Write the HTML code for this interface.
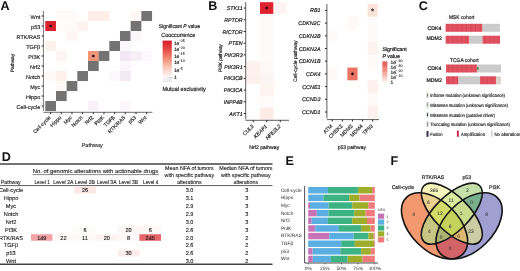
<!DOCTYPE html>
<html><head><meta charset="utf-8"><title>Figure</title>
<style>
html,body{margin:0;padding:0;background:#fff;overflow:hidden;}
svg{display:block;font-family:"Liberation Sans", Arial, sans-serif;}
text{text-rendering:geometricPrecision;}
</style></head>
<body>
<svg xmlns="http://www.w3.org/2000/svg" width="520" height="271" viewBox="0 0 520 271">
<rect width="520" height="271" fill="#fff"/>
<text x="0.60" y="10.10" font-size="12.6" font-weight="bold" fill="#111">A</text>
<text x="208.20" y="10.10" font-size="12.6" font-weight="bold" fill="#111">B</text>
<text x="418.80" y="10.20" font-size="12.6" font-weight="bold" fill="#111">C</text>
<text x="1.80" y="160.60" font-size="12.6" font-weight="bold" fill="#111">D</text>
<text x="285.40" y="164.90" font-size="12.6" font-weight="bold" fill="#111">E</text>
<text x="390.40" y="165.00" font-size="12.6" font-weight="bold" fill="#111">F</text>
<rect x="55.97" y="11.00" width="10.72" height="10.05" fill="#fefaf9"/>
<rect x="66.64" y="11.00" width="10.72" height="10.05" fill="#fefaf9"/>
<rect x="87.98" y="11.00" width="10.72" height="10.05" fill="#fdeee8"/>
<rect x="98.65" y="11.00" width="10.72" height="10.05" fill="#fdeee8"/>
<rect x="130.66" y="11.00" width="10.72" height="10.05" fill="#fef6f2"/>
<rect x="141.33" y="11.00" width="10.72" height="10.05" fill="#737373"/>
<rect x="45.30" y="21.00" width="10.72" height="10.05" fill="#d8222e"/>
<rect x="55.97" y="21.00" width="10.72" height="10.05" fill="#fefbfa"/>
<rect x="66.64" y="21.00" width="10.72" height="10.05" fill="#fefbfa"/>
<rect x="77.31" y="21.00" width="10.72" height="10.05" fill="#fef3f1"/>
<rect x="130.66" y="21.00" width="10.72" height="10.05" fill="#737373"/>
<rect x="66.64" y="31.00" width="10.72" height="10.05" fill="#fef5f4"/>
<rect x="119.99" y="31.00" width="10.72" height="10.05" fill="#737373"/>
<rect x="130.66" y="31.00" width="10.72" height="10.05" fill="#faf6fa"/>
<rect x="45.30" y="41.00" width="10.72" height="10.05" fill="#fdf1ec"/>
<rect x="109.32" y="41.00" width="10.72" height="10.05" fill="#737373"/>
<rect x="119.99" y="41.00" width="10.72" height="10.05" fill="#faf7fb"/>
<rect x="55.97" y="51.00" width="10.72" height="10.05" fill="#fef5f3"/>
<rect x="87.98" y="51.00" width="10.72" height="10.05" fill="#f19478"/>
<rect x="98.65" y="51.00" width="10.72" height="10.05" fill="#737373"/>
<rect x="119.99" y="51.00" width="10.72" height="10.05" fill="#f1e7f2"/>
<rect x="130.66" y="51.00" width="10.72" height="10.05" fill="#f6f0f6"/>
<rect x="141.33" y="51.00" width="10.72" height="10.05" fill="#fbf9fb"/>
<rect x="87.98" y="61.00" width="10.72" height="10.05" fill="#737373"/>
<rect x="119.99" y="61.00" width="10.72" height="10.05" fill="#faf6fa"/>
<rect x="45.30" y="71.00" width="10.72" height="10.05" fill="#fef9f7"/>
<rect x="55.97" y="71.00" width="10.72" height="10.05" fill="#fdf0eb"/>
<rect x="77.31" y="71.00" width="10.72" height="10.05" fill="#737373"/>
<rect x="109.32" y="71.00" width="10.72" height="10.05" fill="#fbf9fb"/>
<rect x="119.99" y="71.00" width="10.72" height="10.05" fill="#f2e9f3"/>
<rect x="55.97" y="81.00" width="10.72" height="10.05" fill="#fef8f6"/>
<rect x="66.64" y="81.00" width="10.72" height="10.05" fill="#737373"/>
<rect x="55.97" y="91.00" width="10.72" height="10.05" fill="#737373"/>
<rect x="45.30" y="101.00" width="10.72" height="10.05" fill="#737373"/>
<rect x="87.98" y="101.00" width="10.72" height="10.05" fill="#f8f1f7"/>
<rect x="119.99" y="101.00" width="10.72" height="10.05" fill="#fbf7fb"/>
<circle cx="50.63" cy="26.00" r="1.3" fill="#1a0a0a"/>
<circle cx="93.31" cy="56.00" r="1.3" fill="#1a0a0a"/>
<line x1="43.40" y1="11.00" x2="43.40" y2="111.00" stroke="#777" stroke-width="1.0"/>
<line x1="43.50" y1="112.30" x2="152.40" y2="112.30" stroke="#444" stroke-width="0.8"/>
<line x1="41.60" y1="16.00" x2="43.50" y2="16.00" stroke="#222" stroke-width="1.0"/>
<text x="40.30" y="19.00" font-size="5.5" stroke="#1a1a1a" stroke-width="0.15" text-anchor="end" fill="#1a1a1a">Wnt</text>
<line x1="41.60" y1="26.00" x2="43.50" y2="26.00" stroke="#222" stroke-width="1.0"/>
<text x="40.30" y="29.00" font-size="5.5" stroke="#1a1a1a" stroke-width="0.15" text-anchor="end" fill="#1a1a1a">p53</text>
<line x1="41.60" y1="36.00" x2="43.50" y2="36.00" stroke="#222" stroke-width="1.0"/>
<text x="40.30" y="39.00" font-size="5.5" stroke="#1a1a1a" stroke-width="0.15" text-anchor="end" fill="#1a1a1a">RTK/RAS</text>
<line x1="41.60" y1="46.00" x2="43.50" y2="46.00" stroke="#222" stroke-width="1.0"/>
<text x="40.30" y="49.00" font-size="5.5" stroke="#1a1a1a" stroke-width="0.15" text-anchor="end" fill="#1a1a1a">TGF&#946;</text>
<line x1="41.60" y1="56.00" x2="43.50" y2="56.00" stroke="#222" stroke-width="1.0"/>
<text x="40.30" y="59.00" font-size="5.5" stroke="#1a1a1a" stroke-width="0.15" text-anchor="end" fill="#1a1a1a">PI3K</text>
<line x1="41.60" y1="66.00" x2="43.50" y2="66.00" stroke="#222" stroke-width="1.0"/>
<text x="40.30" y="69.00" font-size="5.5" stroke="#1a1a1a" stroke-width="0.15" text-anchor="end" fill="#1a1a1a">Nrf2</text>
<line x1="41.60" y1="76.00" x2="43.50" y2="76.00" stroke="#222" stroke-width="1.0"/>
<text x="40.30" y="79.00" font-size="5.5" stroke="#1a1a1a" stroke-width="0.15" text-anchor="end" fill="#1a1a1a">Notch</text>
<line x1="41.60" y1="86.00" x2="43.50" y2="86.00" stroke="#222" stroke-width="1.0"/>
<text x="40.30" y="89.00" font-size="5.5" stroke="#1a1a1a" stroke-width="0.15" text-anchor="end" fill="#1a1a1a">Myc</text>
<line x1="41.60" y1="96.00" x2="43.50" y2="96.00" stroke="#222" stroke-width="1.0"/>
<text x="40.30" y="99.00" font-size="5.5" stroke="#1a1a1a" stroke-width="0.15" text-anchor="end" fill="#1a1a1a">Hippo</text>
<line x1="41.60" y1="106.00" x2="43.50" y2="106.00" stroke="#222" stroke-width="1.0"/>
<text x="40.30" y="109.00" font-size="5.5" stroke="#1a1a1a" stroke-width="0.15" text-anchor="end" fill="#1a1a1a">Cell-cycle</text>
<line x1="50.63" y1="112.30" x2="50.63" y2="114.20" stroke="#222" stroke-width="1.0"/>
<text x="51.13" y="117.90" font-size="5.2" stroke="#111" stroke-width="0.14" text-anchor="end" fill="#111" transform="rotate(-45 51.13 117.90)">Cell-cycle</text>
<line x1="61.30" y1="112.30" x2="61.30" y2="114.20" stroke="#222" stroke-width="1.0"/>
<text x="61.80" y="117.90" font-size="5.2" stroke="#111" stroke-width="0.14" text-anchor="end" fill="#111" transform="rotate(-45 61.80 117.90)">Hippo</text>
<line x1="71.97" y1="112.30" x2="71.97" y2="114.20" stroke="#222" stroke-width="1.0"/>
<text x="72.47" y="117.90" font-size="5.2" stroke="#111" stroke-width="0.14" text-anchor="end" fill="#111" transform="rotate(-45 72.47 117.90)">Myc</text>
<line x1="82.64" y1="112.30" x2="82.64" y2="114.20" stroke="#222" stroke-width="1.0"/>
<text x="83.14" y="117.90" font-size="5.2" stroke="#111" stroke-width="0.14" text-anchor="end" fill="#111" transform="rotate(-45 83.14 117.90)">Notch</text>
<line x1="93.31" y1="112.30" x2="93.31" y2="114.20" stroke="#222" stroke-width="1.0"/>
<text x="93.81" y="117.90" font-size="5.2" stroke="#111" stroke-width="0.14" text-anchor="end" fill="#111" transform="rotate(-45 93.81 117.90)">Nrf2</text>
<line x1="103.98" y1="112.30" x2="103.98" y2="114.20" stroke="#222" stroke-width="1.0"/>
<text x="104.48" y="117.90" font-size="5.2" stroke="#111" stroke-width="0.14" text-anchor="end" fill="#111" transform="rotate(-45 104.48 117.90)">PI3K</text>
<line x1="114.66" y1="112.30" x2="114.66" y2="114.20" stroke="#222" stroke-width="1.0"/>
<text x="115.16" y="117.90" font-size="5.2" stroke="#111" stroke-width="0.14" text-anchor="end" fill="#111" transform="rotate(-45 115.16 117.90)">TGF&#946;</text>
<line x1="125.33" y1="112.30" x2="125.33" y2="114.20" stroke="#222" stroke-width="1.0"/>
<text x="125.83" y="117.90" font-size="5.2" stroke="#111" stroke-width="0.14" text-anchor="end" fill="#111" transform="rotate(-45 125.83 117.90)">RTK/RAS</text>
<line x1="136.00" y1="112.30" x2="136.00" y2="114.20" stroke="#222" stroke-width="1.0"/>
<text x="136.50" y="117.90" font-size="5.2" stroke="#111" stroke-width="0.14" text-anchor="end" fill="#111" transform="rotate(-45 136.50 117.90)">p53</text>
<line x1="146.66" y1="112.30" x2="146.66" y2="114.20" stroke="#222" stroke-width="1.0"/>
<text x="147.16" y="117.90" font-size="5.2" stroke="#111" stroke-width="0.14" text-anchor="end" fill="#111" transform="rotate(-45 147.16 117.90)">Wnt</text>
<text x="92.20" y="146.60" font-size="5.6" stroke="#111" stroke-width="0.1" text-anchor="middle" fill="#111" textLength="21.00" lengthAdjust="spacingAndGlyphs">Pathway</text>
<text x="14.00" y="63.00" font-size="4.8" stroke="#111" stroke-width="0.16" text-anchor="middle" fill="#111" transform="rotate(-90 14.00 63.00)" textLength="18.40" lengthAdjust="spacingAndGlyphs">Pathway</text>
<text x="158.80" y="27.60" font-size="5.4" stroke="#111" stroke-width="0.16" fill="#111" textLength="41.20" lengthAdjust="spacingAndGlyphs">Significant <tspan font-style="italic">P</tspan> value</text>
<text x="161.20" y="37.00" font-size="5.9" stroke="#111" stroke-width="0.16" fill="#111" textLength="34.00" lengthAdjust="spacingAndGlyphs">Cooccurrence</text>
<defs><linearGradient id="gA" x1="0" y1="0" x2="0" y2="1"><stop offset="0" stop-color="#d81a2a"/><stop offset="0.25" stop-color="#e64a44"/><stop offset="0.5" stop-color="#f08c74"/><stop offset="0.75" stop-color="#f8c8b8"/><stop offset="1" stop-color="#fdf4f2"/></linearGradient><linearGradient id="gA2" x1="0" y1="0" x2="0" y2="1"><stop offset="0" stop-color="#fcf8fb"/><stop offset="1" stop-color="#ede2ef"/></linearGradient><linearGradient id="gB" x1="0" y1="0" x2="0" y2="1"><stop offset="0" stop-color="#e05e5c"/><stop offset="0.25" stop-color="#e86e68"/><stop offset="0.26" stop-color="#ec8478"/><stop offset="0.5" stop-color="#ef907f"/><stop offset="0.51" stop-color="#f4aa9c"/><stop offset="0.75" stop-color="#f6b6aa"/><stop offset="0.76" stop-color="#f9cfc6"/><stop offset="1" stop-color="#fce4de"/></linearGradient></defs>
<rect x="162.60" y="40.60" width="9.20" height="35.80" fill="url(#gA)"/>
<rect x="162.60" y="76.40" width="9.20" height="5.60" fill="url(#gA2)"/>
<text x="173.90" y="44.50" font-size="4.9" stroke="#111" stroke-width="0.16" fill="#111">1e</text>
<text x="178.80" y="42.20" font-size="3.5" stroke="#111" stroke-width="0.08" fill="#111">&#8722;25</text>
<text x="173.90" y="51.10" font-size="4.9" stroke="#111" stroke-width="0.16" fill="#111">1e</text>
<text x="178.80" y="48.80" font-size="3.5" stroke="#111" stroke-width="0.08" fill="#111">&#8722;20</text>
<text x="173.90" y="57.70" font-size="4.9" stroke="#111" stroke-width="0.16" fill="#111">1e</text>
<text x="178.80" y="55.40" font-size="3.5" stroke="#111" stroke-width="0.08" fill="#111">&#8722;15</text>
<text x="173.90" y="64.40" font-size="4.9" stroke="#111" stroke-width="0.16" fill="#111">1e</text>
<text x="178.80" y="62.10" font-size="3.5" stroke="#111" stroke-width="0.08" fill="#111">&#8722;10</text>
<text x="173.90" y="72.30" font-size="4.9" stroke="#111" stroke-width="0.16" fill="#111">1e</text>
<text x="178.80" y="70.00" font-size="3.5" stroke="#111" stroke-width="0.08" fill="#111">&#8722;5</text>
<text x="173.90" y="78.90" font-size="4.9" stroke="#111" stroke-width="0.16" fill="#111">1</text>
<line x1="169.60" y1="77.60" x2="171.00" y2="77.60" stroke="#555" stroke-width="0.4"/>
<line x1="171.60" y1="77.60" x2="172.80" y2="77.60" stroke="#555" stroke-width="0.4"/>
<text x="162.40" y="91.40" font-size="5.9" stroke="#111" stroke-width="0.16" fill="#111" textLength="43.40" lengthAdjust="spacingAndGlyphs">Mutual exclusivity</text>
<rect x="260.00" y="2.20" width="13.55" height="11.77" fill="#de2230"/>
<rect x="273.50" y="2.20" width="13.55" height="11.77" fill="#fdf3f1"/>
<rect x="246.50" y="60.80" width="13.55" height="11.77" fill="#fdf1ee"/>
<rect x="246.50" y="72.52" width="13.55" height="11.77" fill="#fdf1ee"/>
<rect x="260.00" y="13.92" width="13.55" height="11.77" fill="#fefaf9"/>
<rect x="260.00" y="25.64" width="13.55" height="11.77" fill="#fefaf9"/>
<rect x="260.00" y="37.36" width="13.55" height="11.77" fill="#fefaf9"/>
<rect x="260.00" y="49.08" width="13.55" height="11.77" fill="#fefaf9"/>
<rect x="260.00" y="60.80" width="13.55" height="11.77" fill="#fef8f7"/>
<rect x="260.00" y="72.52" width="13.55" height="11.77" fill="#fdf5f3"/>
<rect x="260.00" y="84.24" width="13.55" height="11.77" fill="#fdf3f0"/>
<rect x="260.00" y="95.96" width="13.55" height="11.77" fill="#fefbfa"/>
<rect x="260.00" y="107.68" width="13.55" height="11.77" fill="#fdebe5"/>
<circle cx="266.75" cy="8.06" r="1.3" fill="#1a0a0a"/>
<line x1="245.70" y1="2.20" x2="245.70" y2="119.40" stroke="#333" stroke-width="0.8"/>
<line x1="245.60" y1="120.30" x2="289.00" y2="120.30" stroke="#333" stroke-width="0.8"/>
<line x1="243.70" y1="8.06" x2="245.60" y2="8.06" stroke="#222" stroke-width="1.0"/>
<text x="242.60" y="10.06" font-size="5.3" stroke="#111" stroke-width="0.16" text-anchor="end" font-style="italic" fill="#111">STK11</text>
<line x1="243.70" y1="19.78" x2="245.60" y2="19.78" stroke="#222" stroke-width="1.0"/>
<text x="242.60" y="21.78" font-size="5.3" stroke="#111" stroke-width="0.16" text-anchor="end" font-style="italic" fill="#111">RPTOR</text>
<line x1="243.70" y1="31.50" x2="245.60" y2="31.50" stroke="#222" stroke-width="1.0"/>
<text x="242.60" y="33.50" font-size="5.3" stroke="#111" stroke-width="0.16" text-anchor="end" font-style="italic" fill="#111">RICTOR</text>
<line x1="243.70" y1="43.22" x2="245.60" y2="43.22" stroke="#222" stroke-width="1.0"/>
<text x="242.60" y="45.22" font-size="5.3" stroke="#111" stroke-width="0.16" text-anchor="end" font-style="italic" fill="#111">PTEN</text>
<line x1="243.70" y1="54.94" x2="245.60" y2="54.94" stroke="#222" stroke-width="1.0"/>
<text x="242.60" y="56.94" font-size="5.3" stroke="#111" stroke-width="0.16" text-anchor="end" font-style="italic" fill="#111">PIK3R3</text>
<line x1="243.70" y1="66.66" x2="245.60" y2="66.66" stroke="#222" stroke-width="1.0"/>
<text x="242.60" y="68.66" font-size="5.3" stroke="#111" stroke-width="0.16" text-anchor="end" font-style="italic" fill="#111">PIK3R1</text>
<line x1="243.70" y1="78.38" x2="245.60" y2="78.38" stroke="#222" stroke-width="1.0"/>
<text x="242.60" y="80.38" font-size="5.3" stroke="#111" stroke-width="0.16" text-anchor="end" font-style="italic" fill="#111">PIK3CB</text>
<line x1="243.70" y1="90.10" x2="245.60" y2="90.10" stroke="#222" stroke-width="1.0"/>
<text x="242.60" y="92.10" font-size="5.3" stroke="#111" stroke-width="0.16" text-anchor="end" font-style="italic" fill="#111">PIK3CA</text>
<line x1="243.70" y1="101.82" x2="245.60" y2="101.82" stroke="#222" stroke-width="1.0"/>
<text x="242.60" y="103.82" font-size="5.3" stroke="#111" stroke-width="0.16" text-anchor="end" font-style="italic" fill="#111">INPP4B</text>
<line x1="243.70" y1="113.54" x2="245.60" y2="113.54" stroke="#222" stroke-width="1.0"/>
<text x="242.60" y="115.54" font-size="5.3" stroke="#111" stroke-width="0.16" text-anchor="end" font-style="italic" fill="#111">AKT1</text>
<line x1="253.25" y1="120.30" x2="253.25" y2="122.20" stroke="#222" stroke-width="1.0"/>
<text x="254.15" y="126.60" font-size="5.2" stroke="#111" stroke-width="0.14" text-anchor="end" font-style="italic" fill="#111" transform="rotate(-45 254.15 126.60)">CUL3</text>
<line x1="266.75" y1="120.30" x2="266.75" y2="122.20" stroke="#222" stroke-width="1.0"/>
<text x="267.65" y="126.60" font-size="5.2" stroke="#111" stroke-width="0.14" text-anchor="end" font-style="italic" fill="#111" transform="rotate(-45 267.65 126.60)">KEAP1</text>
<line x1="280.25" y1="120.30" x2="280.25" y2="122.20" stroke="#222" stroke-width="1.0"/>
<text x="281.15" y="126.60" font-size="5.2" stroke="#111" stroke-width="0.14" text-anchor="end" font-style="italic" fill="#111" transform="rotate(-45 281.15 126.60)">NFE2L2</text>
<text x="264.20" y="149.40" font-size="5.2" stroke="#111" stroke-width="0.16" text-anchor="middle" fill="#111" textLength="30.00" lengthAdjust="spacingAndGlyphs">Nrf2 pathway</text>
<text x="221.80" y="58.00" font-size="4.9" stroke="#111" stroke-width="0.16" text-anchor="middle" fill="#111" transform="rotate(-90 221.80 58.00)" textLength="27.40" lengthAdjust="spacingAndGlyphs">PI3K pathway</text>
<rect x="367.60" y="4.05" width="10.15" height="12.75" fill="#fbe3da"/>
<rect x="347.40" y="67.55" width="10.15" height="12.75" fill="#ea7364"/>
<rect x="347.40" y="16.75" width="10.15" height="12.75" fill="#fef9f8"/>
<rect x="327.20" y="29.45" width="10.15" height="12.75" fill="#fefaf9"/>
<rect x="367.60" y="42.15" width="10.15" height="12.75" fill="#fdf3ef"/>
<rect x="327.20" y="67.55" width="10.15" height="12.75" fill="#fef8f7"/>
<rect x="367.60" y="80.25" width="10.15" height="12.75" fill="#fdf0ec"/>
<rect x="367.60" y="105.65" width="10.15" height="12.75" fill="#fdf0ec"/>
<rect x="367.60" y="92.95" width="10.15" height="12.75" fill="#fefaf9"/>
<rect x="367.60" y="54.85" width="10.15" height="12.75" fill="#fefaf9"/>
<rect x="367.60" y="16.75" width="10.15" height="12.75" fill="#fefaf9"/>
<rect x="367.60" y="29.45" width="10.15" height="12.75" fill="#fefaf9"/>
<circle cx="352.45" cy="73.90" r="1.3" fill="#1a0a0a"/>
<text x="372.65" y="13.80" font-size="8.0" stroke="#111" stroke-width="0.2" text-anchor="middle" fill="#111">*</text>
<line x1="326.90" y1="4.05" x2="326.90" y2="118.35" stroke="#333" stroke-width="0.8"/>
<line x1="326.90" y1="119.60" x2="379.00" y2="119.60" stroke="#333" stroke-width="0.8"/>
<line x1="325.00" y1="10.40" x2="326.90" y2="10.40" stroke="#222" stroke-width="1.0"/>
<text x="320.50" y="12.40" font-size="5.4" stroke="#111" stroke-width="0.16" text-anchor="end" font-style="italic" fill="#111">RB1</text>
<line x1="325.00" y1="23.10" x2="326.90" y2="23.10" stroke="#222" stroke-width="1.0"/>
<text x="320.50" y="25.10" font-size="5.4" stroke="#111" stroke-width="0.16" text-anchor="end" font-style="italic" fill="#111">CDKN2C</text>
<line x1="325.00" y1="35.80" x2="326.90" y2="35.80" stroke="#222" stroke-width="1.0"/>
<text x="320.50" y="37.80" font-size="5.4" stroke="#111" stroke-width="0.16" text-anchor="end" font-style="italic" fill="#111">CDKN2B</text>
<line x1="325.00" y1="48.50" x2="326.90" y2="48.50" stroke="#222" stroke-width="1.0"/>
<text x="320.50" y="50.50" font-size="5.4" stroke="#111" stroke-width="0.16" text-anchor="end" font-style="italic" fill="#111">CDKN2A</text>
<line x1="325.00" y1="61.20" x2="326.90" y2="61.20" stroke="#222" stroke-width="1.0"/>
<text x="320.50" y="63.20" font-size="5.4" stroke="#111" stroke-width="0.16" text-anchor="end" font-style="italic" fill="#111">CDKN1B</text>
<line x1="325.00" y1="73.90" x2="326.90" y2="73.90" stroke="#222" stroke-width="1.0"/>
<text x="320.50" y="75.90" font-size="5.4" stroke="#111" stroke-width="0.16" text-anchor="end" font-style="italic" fill="#111">CDK4</text>
<line x1="325.00" y1="86.60" x2="326.90" y2="86.60" stroke="#222" stroke-width="1.0"/>
<text x="320.50" y="88.60" font-size="5.4" stroke="#111" stroke-width="0.16" text-anchor="end" font-style="italic" fill="#111">CCNE1</text>
<line x1="325.00" y1="99.30" x2="326.90" y2="99.30" stroke="#222" stroke-width="1.0"/>
<text x="320.50" y="101.30" font-size="5.4" stroke="#111" stroke-width="0.16" text-anchor="end" font-style="italic" fill="#111">CCND3</text>
<line x1="325.00" y1="112.00" x2="326.90" y2="112.00" stroke="#222" stroke-width="1.0"/>
<text x="320.50" y="114.00" font-size="5.4" stroke="#111" stroke-width="0.16" text-anchor="end" font-style="italic" fill="#111">CCND1</text>
<line x1="332.25" y1="119.60" x2="332.25" y2="121.50" stroke="#222" stroke-width="1.0"/>
<text x="332.85" y="126.40" font-size="5.2" stroke="#111" stroke-width="0.14" text-anchor="end" fill="#111" transform="rotate(-45 332.85 126.40)">ATM</text>
<line x1="342.35" y1="119.60" x2="342.35" y2="121.50" stroke="#222" stroke-width="1.0"/>
<text x="342.95" y="126.40" font-size="5.2" stroke="#111" stroke-width="0.14" text-anchor="end" fill="#111" transform="rotate(-45 342.95 126.40)">CHEK2</text>
<line x1="352.45" y1="119.60" x2="352.45" y2="121.50" stroke="#222" stroke-width="1.0"/>
<text x="353.05" y="126.40" font-size="5.2" stroke="#111" stroke-width="0.14" text-anchor="end" fill="#111" transform="rotate(-45 353.05 126.40)">MDM2</text>
<line x1="362.55" y1="119.60" x2="362.55" y2="121.50" stroke="#222" stroke-width="1.0"/>
<text x="363.15" y="126.40" font-size="5.2" stroke="#111" stroke-width="0.14" text-anchor="end" fill="#111" transform="rotate(-45 363.15 126.40)">MDM4</text>
<line x1="372.65" y1="119.60" x2="372.65" y2="121.50" stroke="#222" stroke-width="1.0"/>
<text x="373.25" y="126.40" font-size="5.2" stroke="#111" stroke-width="0.14" text-anchor="end" fill="#111" transform="rotate(-45 373.25 126.40)">TP53</text>
<text x="351.80" y="149.40" font-size="5.2" stroke="#111" stroke-width="0.16" text-anchor="middle" fill="#111" textLength="28.20" lengthAdjust="spacingAndGlyphs">p53 pathway</text>
<text x="297.40" y="61.20" font-size="5.0" stroke="#111" stroke-width="0.16" text-anchor="middle" fill="#111" transform="rotate(-90 297.40 61.20)" textLength="41.50" lengthAdjust="spacingAndGlyphs">Cell-cycle pathway</text>
<text x="382.40" y="51.20" font-size="5.4" stroke="#111" stroke-width="0.18" fill="#111" textLength="24.20" lengthAdjust="spacingAndGlyphs">Significant</text>
<text x="382.40" y="57.60" font-size="5.4" stroke="#111" stroke-width="0.18" fill="#111" textLength="17.40" lengthAdjust="spacingAndGlyphs"><tspan font-style="italic">P</tspan> value</text>
<rect x="382.30" y="61.40" width="5.10" height="20.00" fill="url(#gB)"/>
<text x="390.50" y="64.10" font-size="4.9" stroke="#111" stroke-width="0.16" fill="#111">1e</text>
<text x="395.60" y="62.20" font-size="3.2" stroke="#111" stroke-width="0.1" fill="#111">&#8722;</text>
<text x="398.40" y="62.20" font-size="3.6" stroke="#111" stroke-width="0.08" fill="#111">40</text>
<text x="390.50" y="69.00" font-size="4.9" stroke="#111" stroke-width="0.16" fill="#111">1e</text>
<text x="395.60" y="67.10" font-size="3.2" stroke="#111" stroke-width="0.1" fill="#111">&#8722;</text>
<text x="398.40" y="67.10" font-size="3.6" stroke="#111" stroke-width="0.08" fill="#111">30</text>
<text x="390.50" y="73.80" font-size="4.9" stroke="#111" stroke-width="0.16" fill="#111">1e</text>
<text x="395.60" y="71.90" font-size="3.2" stroke="#111" stroke-width="0.1" fill="#111">&#8722;</text>
<text x="398.40" y="71.90" font-size="3.6" stroke="#111" stroke-width="0.08" fill="#111">20</text>
<text x="390.50" y="78.70" font-size="4.9" stroke="#111" stroke-width="0.16" fill="#111">1e</text>
<text x="395.60" y="76.80" font-size="3.2" stroke="#111" stroke-width="0.1" fill="#111">&#8722;</text>
<text x="398.40" y="76.80" font-size="3.6" stroke="#111" stroke-width="0.08" fill="#111">10</text>
<text x="390.50" y="84.00" font-size="4.9" stroke="#111" stroke-width="0.16" fill="#111">1</text>
<text x="449.00" y="19.00" font-size="5.3" stroke="#111" stroke-width="0.16" fill="#111" textLength="25.40" lengthAdjust="spacingAndGlyphs">MSK cohort</text>
<text x="450.00" y="61.60" font-size="5.3" stroke="#111" stroke-width="0.16" fill="#111" textLength="28.60" lengthAdjust="spacingAndGlyphs">TCGA cohort</text>
<text x="441.40" y="29.50" font-size="5.2" stroke="#111" stroke-width="0.2" text-anchor="end" fill="#111">CDK4</text>
<text x="441.80" y="40.00" font-size="5.2" stroke="#111" stroke-width="0.2" text-anchor="end" fill="#111">MDM2</text>
<rect x="445.60" y="23.80" width="36.90" height="8.00" fill="#e0525f"/>
<rect x="447.60" y="23.80" width="0.70" height="8.00" fill="#c8334a" opacity="0.45"/>
<rect x="452.20" y="23.80" width="0.70" height="8.00" fill="#c8334a" opacity="0.45"/>
<rect x="456.80" y="23.80" width="0.70" height="8.00" fill="#c8334a" opacity="0.45"/>
<rect x="461.40" y="23.80" width="0.70" height="8.00" fill="#c8334a" opacity="0.45"/>
<rect x="466.00" y="23.80" width="0.70" height="8.00" fill="#c8334a" opacity="0.45"/>
<rect x="470.60" y="23.80" width="0.70" height="8.00" fill="#c8334a" opacity="0.45"/>
<rect x="475.20" y="23.80" width="0.70" height="8.00" fill="#c8334a" opacity="0.45"/>
<rect x="479.80" y="23.80" width="0.70" height="8.00" fill="#c8334a" opacity="0.45"/>
<rect x="482.50" y="23.80" width="17.50" height="8.00" fill="#cbcbcb"/>
<rect x="445.60" y="35.70" width="23.80" height="8.00" fill="#e0525f"/>
<rect x="447.60" y="35.70" width="0.70" height="8.00" fill="#c8334a" opacity="0.45"/>
<rect x="452.20" y="35.70" width="0.70" height="8.00" fill="#c8334a" opacity="0.45"/>
<rect x="456.80" y="35.70" width="0.70" height="8.00" fill="#c8334a" opacity="0.45"/>
<rect x="461.40" y="35.70" width="0.70" height="8.00" fill="#c8334a" opacity="0.45"/>
<rect x="466.00" y="35.70" width="0.70" height="8.00" fill="#c8334a" opacity="0.45"/>
<rect x="469.40" y="35.70" width="13.10" height="8.00" fill="#cbcbcb"/>
<rect x="482.50" y="35.70" width="17.50" height="8.00" fill="#e0525f"/>
<rect x="484.50" y="35.70" width="0.70" height="8.00" fill="#c8334a" opacity="0.45"/>
<rect x="489.10" y="35.70" width="0.70" height="8.00" fill="#c8334a" opacity="0.45"/>
<rect x="493.70" y="35.70" width="0.70" height="8.00" fill="#c8334a" opacity="0.45"/>
<rect x="498.30" y="35.70" width="0.70" height="8.00" fill="#c8334a" opacity="0.45"/>
<text x="441.40" y="70.30" font-size="5.2" stroke="#111" stroke-width="0.2" text-anchor="end" fill="#111">CDK4</text>
<text x="441.80" y="82.00" font-size="5.2" stroke="#111" stroke-width="0.2" text-anchor="end" fill="#111">MDM2</text>
<rect x="446.00" y="64.50" width="30.90" height="8.00" fill="#e0525f"/>
<rect x="448.00" y="64.50" width="0.70" height="8.00" fill="#c8334a" opacity="0.45"/>
<rect x="452.60" y="64.50" width="0.70" height="8.00" fill="#c8334a" opacity="0.45"/>
<rect x="457.20" y="64.50" width="0.70" height="8.00" fill="#c8334a" opacity="0.45"/>
<rect x="461.80" y="64.50" width="0.70" height="8.00" fill="#c8334a" opacity="0.45"/>
<rect x="466.40" y="64.50" width="0.70" height="8.00" fill="#c8334a" opacity="0.45"/>
<rect x="471.00" y="64.50" width="0.70" height="8.00" fill="#c8334a" opacity="0.45"/>
<rect x="475.60" y="64.50" width="0.70" height="8.00" fill="#c8334a" opacity="0.45"/>
<rect x="476.90" y="64.50" width="24.10" height="8.00" fill="#cbcbcb"/>
<rect x="476.90" y="67.30" width="1.60" height="2.40" fill="#3a8a3a"/>
<rect x="446.00" y="76.30" width="12.50" height="8.00" fill="#e0525f"/>
<rect x="448.00" y="76.30" width="0.70" height="8.00" fill="#c8334a" opacity="0.45"/>
<rect x="452.60" y="76.30" width="0.70" height="8.00" fill="#c8334a" opacity="0.45"/>
<rect x="457.20" y="76.30" width="0.70" height="8.00" fill="#c8334a" opacity="0.45"/>
<rect x="458.50" y="76.30" width="21.50" height="8.00" fill="#cbcbcb"/>
<rect x="480.00" y="76.30" width="16.30" height="8.00" fill="#e0525f"/>
<rect x="482.00" y="76.30" width="0.70" height="8.00" fill="#c8334a" opacity="0.45"/>
<rect x="486.60" y="76.30" width="0.70" height="8.00" fill="#c8334a" opacity="0.45"/>
<rect x="491.20" y="76.30" width="0.70" height="8.00" fill="#c8334a" opacity="0.45"/>
<rect x="496.30" y="76.30" width="4.70" height="8.00" fill="#d6d6cc"/>
<rect x="426.50" y="92.40" width="2.00" height="5.60" fill="#cbcbcb"/>
<rect x="427.00" y="94.00" width="1.00" height="2.40" fill="#7a7a52"/>
<text x="430.20" y="97.10" font-size="4.8" stroke="#111" stroke-width="0.15" fill="#111" textLength="74.80" lengthAdjust="spacingAndGlyphs">Inframe mutation (unknown significance)</text>
<rect x="426.50" y="101.80" width="2.00" height="5.80" fill="#cbcbcb"/>
<rect x="427.00" y="103.40" width="1.00" height="2.60" fill="#86ad6e"/>
<text x="430.20" y="106.70" font-size="4.8" stroke="#111" stroke-width="0.15" fill="#111" textLength="77.80" lengthAdjust="spacingAndGlyphs">Missense mutation (unknown significance)</text>
<rect x="426.50" y="112.00" width="2.00" height="5.60" fill="#cbcbcb"/>
<rect x="427.00" y="113.60" width="1.00" height="2.40" fill="#1e3a1e"/>
<text x="430.20" y="116.70" font-size="4.8" stroke="#111" stroke-width="0.15" fill="#111" textLength="64.80" lengthAdjust="spacingAndGlyphs">Missense mutation (putative driver)</text>
<rect x="426.50" y="121.20" width="2.00" height="6.00" fill="#cbcbcb"/>
<rect x="427.00" y="122.80" width="1.00" height="2.80" fill="#8a8a8a"/>
<text x="430.20" y="126.30" font-size="4.8" stroke="#111" stroke-width="0.15" fill="#111" textLength="79.80" lengthAdjust="spacingAndGlyphs">Truncating mutation (unknown significance)</text>
<rect x="426.50" y="131.00" width="2.00" height="5.80" fill="#3b2a4c"/>
<text x="430.20" y="135.90" font-size="4.8" stroke="#111" stroke-width="0.15" fill="#111" textLength="12.30" lengthAdjust="spacingAndGlyphs">Fusion</text>
<rect x="456.90" y="130.60" width="1.90" height="6.20" fill="#cc2040"/>
<text x="461.00" y="135.90" font-size="4.8" stroke="#111" stroke-width="0.15" fill="#111" textLength="24.00" lengthAdjust="spacingAndGlyphs">Amplification</text>
<rect x="491.00" y="130.60" width="1.40" height="6.20" fill="#cbcbcb"/>
<text x="494.40" y="135.90" font-size="4.8" stroke="#111" stroke-width="0.15" fill="#111" textLength="27.00" lengthAdjust="spacingAndGlyphs">No alterations</text>
<g class="gp">
<line x1="0.00" y1="163.90" x2="272.50" y2="163.90" stroke="#444" stroke-width="1.5"/>
<text x="32.70" y="172.60" font-size="5.6" stroke="#111" stroke-width="0.09" fill="#111" textLength="125.50" lengthAdjust="spacingAndGlyphs">No. of genomic alterations with actionable drugs</text>
<line x1="32.70" y1="174.60" x2="159.00" y2="174.60" stroke="#222" stroke-width="0.55"/>
<line x1="0.00" y1="185.60" x2="272.50" y2="185.60" stroke="#333" stroke-width="0.8"/>
<text x="0.90" y="183.50" font-size="5.6" stroke="#111" stroke-width="0.09" fill="#111" textLength="19.80" lengthAdjust="spacingAndGlyphs">Pathway</text>
<text x="34.40" y="183.50" font-size="5.6" stroke="#111" stroke-width="0.09" fill="#111" textLength="15.40" lengthAdjust="spacingAndGlyphs">Level 1</text>
<text x="53.30" y="183.50" font-size="5.6" stroke="#111" stroke-width="0.09" fill="#111" textLength="20.20" lengthAdjust="spacingAndGlyphs">Level 2A</text>
<text x="74.80" y="183.50" font-size="5.6" stroke="#111" stroke-width="0.09" fill="#111" textLength="20.20" lengthAdjust="spacingAndGlyphs">Level 2B</text>
<text x="97.00" y="183.50" font-size="5.6" stroke="#111" stroke-width="0.09" fill="#111" textLength="19.50" lengthAdjust="spacingAndGlyphs">Level 3A</text>
<text x="118.70" y="183.50" font-size="5.6" stroke="#111" stroke-width="0.09" fill="#111" textLength="19.30" lengthAdjust="spacingAndGlyphs">Level 3B</text>
<text x="143.00" y="183.50" font-size="5.6" stroke="#111" stroke-width="0.09" fill="#111" textLength="15.30" lengthAdjust="spacingAndGlyphs">Level 4</text>
<text x="189.40" y="170.40" font-size="5.6" stroke="#111" stroke-width="0.09" text-anchor="middle" fill="#111" textLength="48.60" lengthAdjust="spacingAndGlyphs">Mean NFA of tumors</text>
<text x="189.40" y="177.10" font-size="5.6" stroke="#111" stroke-width="0.09" text-anchor="middle" fill="#111" textLength="49.60" lengthAdjust="spacingAndGlyphs">with specific pathway</text>
<text x="189.40" y="183.60" font-size="5.6" stroke="#111" stroke-width="0.09" text-anchor="middle" fill="#111" textLength="24.60" lengthAdjust="spacingAndGlyphs">alterations</text>
<text x="245.80" y="170.40" font-size="5.6" stroke="#111" stroke-width="0.09" text-anchor="middle" fill="#111" textLength="53.20" lengthAdjust="spacingAndGlyphs">Median NFA of tumors</text>
<text x="245.80" y="177.10" font-size="5.6" stroke="#111" stroke-width="0.09" text-anchor="middle" fill="#111" textLength="49.60" lengthAdjust="spacingAndGlyphs">with specific pathway</text>
<text x="245.80" y="183.60" font-size="5.6" stroke="#111" stroke-width="0.09" text-anchor="middle" fill="#111" textLength="24.60" lengthAdjust="spacingAndGlyphs">alterations</text>
<rect x="74.20" y="186.80" width="21.60" height="6.60" fill="#fce6e6"/>
<rect x="31.00" y="234.20" width="21.60" height="6.60" fill="#f4a3a6"/>
<rect x="96.00" y="234.20" width="21.60" height="6.60" fill="#fdf2f2"/>
<rect x="117.70" y="234.20" width="21.60" height="6.60" fill="#fef7f7"/>
<rect x="139.40" y="234.20" width="21.60" height="6.60" fill="#e4666a"/>
<rect x="117.70" y="226.30" width="21.60" height="6.60" fill="#fdf4f4"/>
<rect x="117.70" y="250.00" width="21.60" height="6.60" fill="#fcebeb"/>
<rect x="52.60" y="234.20" width="21.60" height="6.60" fill="#fefafa"/>
<rect x="74.20" y="234.20" width="21.60" height="6.60" fill="#fefafa"/>
<rect x="139.40" y="226.30" width="21.60" height="6.60" fill="#fef7f7"/>
<rect x="74.20" y="226.30" width="21.60" height="6.60" fill="#fefbfb"/>
<text x="85.00" y="192.10" font-size="5.6" stroke="#111" stroke-width="0.09" text-anchor="middle" fill="#111">26</text>
<text x="85.00" y="231.60" font-size="5.6" stroke="#111" stroke-width="0.09" text-anchor="middle" fill="#111">6</text>
<text x="128.50" y="231.60" font-size="5.6" stroke="#111" stroke-width="0.09" text-anchor="middle" fill="#111">20</text>
<text x="150.20" y="231.60" font-size="5.6" stroke="#111" stroke-width="0.09" text-anchor="middle" fill="#111">6</text>
<text x="41.80" y="239.50" font-size="5.6" stroke="#111" stroke-width="0.09" text-anchor="middle" fill="#111">149</text>
<text x="63.40" y="239.50" font-size="5.6" stroke="#111" stroke-width="0.09" text-anchor="middle" fill="#111">22</text>
<text x="85.00" y="239.50" font-size="5.6" stroke="#111" stroke-width="0.09" text-anchor="middle" fill="#111">11</text>
<text x="106.80" y="239.50" font-size="5.6" stroke="#111" stroke-width="0.09" text-anchor="middle" fill="#111">20</text>
<text x="128.50" y="239.50" font-size="5.6" stroke="#111" stroke-width="0.09" text-anchor="middle" fill="#111">8</text>
<text x="150.20" y="239.50" font-size="5.6" stroke="#111" stroke-width="0.09" text-anchor="middle" fill="#111">245</text>
<text x="128.50" y="255.30" font-size="5.6" stroke="#111" stroke-width="0.09" text-anchor="middle" fill="#111">30</text>
<text x="11.00" y="192.10" font-size="5.6" stroke="#111" stroke-width="0.09" text-anchor="middle" fill="#111">Cell-cycle</text>
<text x="189.60" y="192.10" font-size="5.6" stroke="#111" stroke-width="0.09" text-anchor="middle" fill="#111">3.0</text>
<text x="246.80" y="192.10" font-size="5.6" stroke="#111" stroke-width="0.09" text-anchor="middle" fill="#111">3</text>
<text x="11.00" y="200.00" font-size="5.6" stroke="#111" stroke-width="0.09" text-anchor="middle" fill="#111">Hippo</text>
<text x="189.60" y="200.00" font-size="5.6" stroke="#111" stroke-width="0.09" text-anchor="middle" fill="#111">3.1</text>
<text x="246.80" y="200.00" font-size="5.6" stroke="#111" stroke-width="0.09" text-anchor="middle" fill="#111">3</text>
<text x="11.00" y="207.90" font-size="5.6" stroke="#111" stroke-width="0.09" text-anchor="middle" fill="#111">Myc</text>
<text x="189.60" y="207.90" font-size="5.6" stroke="#111" stroke-width="0.09" text-anchor="middle" fill="#111">2.9</text>
<text x="246.80" y="207.90" font-size="5.6" stroke="#111" stroke-width="0.09" text-anchor="middle" fill="#111">3</text>
<text x="11.00" y="215.80" font-size="5.6" stroke="#111" stroke-width="0.09" text-anchor="middle" fill="#111">Notch</text>
<text x="189.60" y="215.80" font-size="5.6" stroke="#111" stroke-width="0.09" text-anchor="middle" fill="#111">2.9</text>
<text x="246.80" y="215.80" font-size="5.6" stroke="#111" stroke-width="0.09" text-anchor="middle" fill="#111">3</text>
<text x="11.00" y="223.70" font-size="5.6" stroke="#111" stroke-width="0.09" text-anchor="middle" fill="#111">Nrf2</text>
<text x="189.60" y="223.70" font-size="5.6" stroke="#111" stroke-width="0.09" text-anchor="middle" fill="#111">3.0</text>
<text x="246.80" y="223.70" font-size="5.6" stroke="#111" stroke-width="0.09" text-anchor="middle" fill="#111">3</text>
<text x="11.00" y="231.60" font-size="5.6" stroke="#111" stroke-width="0.09" text-anchor="middle" fill="#111">PI3K</text>
<text x="189.60" y="231.60" font-size="5.6" stroke="#111" stroke-width="0.09" text-anchor="middle" fill="#111">2.6</text>
<text x="246.80" y="231.60" font-size="5.6" stroke="#111" stroke-width="0.09" text-anchor="middle" fill="#111">3</text>
<text x="11.00" y="239.50" font-size="5.6" stroke="#111" stroke-width="0.09" text-anchor="middle" fill="#111">RTK/RAS</text>
<text x="189.60" y="239.50" font-size="5.6" stroke="#111" stroke-width="0.09" text-anchor="middle" fill="#111">2.0</text>
<text x="246.80" y="239.50" font-size="5.6" stroke="#111" stroke-width="0.09" text-anchor="middle" fill="#111">2</text>
<text x="11.00" y="247.40" font-size="5.6" stroke="#111" stroke-width="0.09" text-anchor="middle" fill="#111">TGF&#946;</text>
<text x="189.60" y="247.40" font-size="5.6" stroke="#111" stroke-width="0.09" text-anchor="middle" fill="#111">2.6</text>
<text x="246.80" y="247.40" font-size="5.6" stroke="#111" stroke-width="0.09" text-anchor="middle" fill="#111">2</text>
<text x="11.00" y="255.30" font-size="5.6" stroke="#111" stroke-width="0.09" text-anchor="middle" fill="#111">p53</text>
<text x="189.60" y="255.30" font-size="5.6" stroke="#111" stroke-width="0.09" text-anchor="middle" fill="#111">2.6</text>
<text x="246.80" y="255.30" font-size="5.6" stroke="#111" stroke-width="0.09" text-anchor="middle" fill="#111">2</text>
<text x="11.00" y="263.20" font-size="5.6" stroke="#111" stroke-width="0.09" text-anchor="middle" fill="#111">Wnt</text>
<text x="189.60" y="263.20" font-size="5.6" stroke="#111" stroke-width="0.09" text-anchor="middle" fill="#111">3.0</text>
<text x="246.80" y="263.20" font-size="5.6" stroke="#111" stroke-width="0.09" text-anchor="middle" fill="#111">2</text>
<line x1="0.00" y1="264.20" x2="272.50" y2="264.20" stroke="#444" stroke-width="1.4"/>
</g>
<rect x="308.20" y="187.00" width="19.72" height="6.45" fill="#5aaee2"/>
<rect x="327.90" y="187.00" width="30.22" height="6.45" fill="#3db385"/>
<rect x="358.10" y="187.00" width="14.02" height="6.45" fill="#9fae2a"/>
<rect x="372.10" y="187.00" width="2.72" height="6.45" fill="#ef7a7c"/>
<text x="280.90" y="191.60" font-size="4.8" fill="#2a2a2a">Cell-cycle</text>
<rect x="308.20" y="194.64" width="15.22" height="6.45" fill="#5aaee2"/>
<rect x="323.40" y="194.64" width="25.82" height="6.45" fill="#3db385"/>
<rect x="349.20" y="194.64" width="10.42" height="6.45" fill="#9fae2a"/>
<rect x="359.60" y="194.64" width="15.22" height="6.45" fill="#ef7a7c"/>
<text x="280.90" y="199.24" font-size="4.8" fill="#2a2a2a">Hippo</text>
<rect x="308.20" y="202.28" width="1.82" height="6.45" fill="#c674b6"/>
<rect x="310.00" y="202.28" width="18.62" height="6.45" fill="#5aaee2"/>
<rect x="328.60" y="202.28" width="23.62" height="6.45" fill="#3db385"/>
<rect x="352.20" y="202.28" width="16.22" height="6.45" fill="#9fae2a"/>
<rect x="368.40" y="202.28" width="6.42" height="6.45" fill="#ef7a7c"/>
<text x="280.90" y="206.88" font-size="4.8" fill="#2a2a2a">Myc</text>
<rect x="308.20" y="209.92" width="8.62" height="6.45" fill="#c674b6"/>
<rect x="316.80" y="209.92" width="11.82" height="6.45" fill="#5aaee2"/>
<rect x="328.60" y="209.92" width="25.82" height="6.45" fill="#3db385"/>
<rect x="354.40" y="209.92" width="11.12" height="6.45" fill="#9fae2a"/>
<rect x="365.50" y="209.92" width="9.32" height="6.45" fill="#ef7a7c"/>
<text x="280.90" y="214.52" font-size="4.8" fill="#2a2a2a">Notch</text>
<rect x="308.20" y="217.56" width="3.42" height="6.45" fill="#c674b6"/>
<rect x="311.60" y="217.56" width="16.32" height="6.45" fill="#5aaee2"/>
<rect x="327.90" y="217.56" width="24.32" height="6.45" fill="#3db385"/>
<rect x="352.20" y="217.56" width="14.82" height="6.45" fill="#9fae2a"/>
<rect x="367.00" y="217.56" width="7.82" height="6.45" fill="#ef7a7c"/>
<text x="280.90" y="222.16" font-size="4.8" fill="#2a2a2a">Nrf2</text>
<rect x="308.20" y="225.20" width="7.12" height="6.45" fill="#c674b6"/>
<rect x="315.30" y="225.20" width="23.62" height="6.45" fill="#5aaee2"/>
<rect x="338.90" y="225.20" width="22.12" height="6.45" fill="#3db385"/>
<rect x="361.00" y="225.20" width="9.62" height="6.45" fill="#9fae2a"/>
<rect x="370.60" y="225.20" width="4.22" height="6.45" fill="#ef7a7c"/>
<text x="280.90" y="229.80" font-size="4.8" fill="#2a2a2a">PI3K</text>
<rect x="308.20" y="232.84" width="21.12" height="6.45" fill="#c674b6"/>
<rect x="329.30" y="232.84" width="24.42" height="6.45" fill="#5aaee2"/>
<rect x="353.70" y="232.84" width="14.72" height="6.45" fill="#3db385"/>
<rect x="368.40" y="232.84" width="5.22" height="6.45" fill="#9fae2a"/>
<rect x="373.60" y="232.84" width="1.22" height="6.45" fill="#ef7a7c"/>
<text x="280.90" y="237.44" font-size="4.8" fill="#2a2a2a">RTK/RAS</text>
<rect x="308.20" y="240.48" width="33.02" height="6.45" fill="#5aaee2"/>
<rect x="341.20" y="240.48" width="13.62" height="6.45" fill="#3db385"/>
<rect x="354.80" y="240.48" width="19.22" height="6.45" fill="#9fae2a"/>
<rect x="374.00" y="240.48" width="0.82" height="6.45" fill="#ef7a7c"/>
<text x="280.90" y="245.08" font-size="4.8" fill="#2a2a2a">TGF&#946;</text>
<rect x="308.20" y="248.12" width="4.42" height="6.45" fill="#c674b6"/>
<rect x="312.60" y="248.12" width="27.72" height="6.45" fill="#5aaee2"/>
<rect x="340.30" y="248.12" width="20.92" height="6.45" fill="#3db385"/>
<rect x="361.20" y="248.12" width="9.62" height="6.45" fill="#9fae2a"/>
<rect x="370.80" y="248.12" width="4.02" height="6.45" fill="#ef7a7c"/>
<text x="280.90" y="252.72" font-size="4.8" fill="#2a2a2a">p53</text>
<rect x="308.20" y="255.76" width="4.62" height="6.45" fill="#c674b6"/>
<rect x="312.80" y="255.76" width="18.02" height="6.45" fill="#5aaee2"/>
<rect x="330.80" y="255.76" width="16.92" height="6.45" fill="#3db385"/>
<rect x="347.70" y="255.76" width="14.82" height="6.45" fill="#9fae2a"/>
<rect x="362.50" y="255.76" width="12.32" height="6.45" fill="#ef7a7c"/>
<text x="280.90" y="260.36" font-size="4.8" fill="#2a2a2a">Wnt</text>
<line x1="304.60" y1="186.00" x2="304.60" y2="263.00" stroke="#222" stroke-width="0.8"/>
<line x1="304.60" y1="263.00" x2="378.00" y2="263.00" stroke="#222" stroke-width="0.8"/>
<line x1="308.20" y1="263.00" x2="308.20" y2="264.50" stroke="#333" stroke-width="0.6"/>
<text x="308.20" y="269.80" font-size="4.8" text-anchor="middle" fill="#2a2a2a">0%</text>
<line x1="324.85" y1="263.00" x2="324.85" y2="264.50" stroke="#333" stroke-width="0.6"/>
<text x="324.85" y="269.80" font-size="4.8" text-anchor="middle" fill="#2a2a2a">25%</text>
<line x1="341.50" y1="263.00" x2="341.50" y2="264.50" stroke="#333" stroke-width="0.6"/>
<text x="341.50" y="269.80" font-size="4.8" text-anchor="middle" fill="#2a2a2a">50%</text>
<line x1="358.15" y1="263.00" x2="358.15" y2="264.50" stroke="#333" stroke-width="0.6"/>
<text x="358.15" y="269.80" font-size="4.8" text-anchor="middle" fill="#2a2a2a">75%</text>
<line x1="374.80" y1="263.00" x2="374.80" y2="264.50" stroke="#333" stroke-width="0.6"/>
<text x="374.80" y="269.80" font-size="4.8" text-anchor="middle" fill="#2a2a2a">100%</text>
<text x="378.00" y="211.20" font-size="3.8" fill="#333">NFA</text>
<rect x="378.00" y="213.60" width="6.20" height="5.20" fill="#c674b6"/>
<text x="386.60" y="217.50" font-size="3.6" fill="#333">1</text>
<rect x="378.00" y="219.50" width="6.20" height="5.20" fill="#5aaee2"/>
<text x="386.60" y="223.40" font-size="3.6" fill="#333">2</text>
<rect x="378.00" y="225.40" width="6.20" height="5.20" fill="#3db385"/>
<text x="386.60" y="229.30" font-size="3.6" fill="#333">3</text>
<rect x="378.00" y="231.30" width="6.20" height="5.20" fill="#9fae2a"/>
<text x="386.60" y="235.20" font-size="3.6" fill="#333">4</text>
<rect x="378.00" y="237.20" width="6.20" height="5.20" fill="#ef7a7c"/>
<text x="386.60" y="241.10" font-size="3.6" fill="#333">5</text>
<path d="M420.17,192.81 417.63,192.84 416.17,192.98 414.76,193.21 413.40,193.54 412.10,193.95 410.86,194.44 409.69,195.02 408.58,195.69 407.55,196.44 406.59,197.27 405.71,198.18 404.41,199.86 403.74,200.97 403.16,202.14 402.67,203.38 402.26,204.68 401.93,206.04 401.70,207.45 401.56,208.91 401.51,210.42 401.55,211.97 401.68,213.56 401.90,215.18 402.21,216.83 403.09,220.20 404.32,223.64 405.60,226.52 407.42,229.97 409.54,233.37 411.94,236.69 414.12,239.37 416.95,242.45 419.97,245.34 423.15,248.02 425.89,250.07 429.27,252.28 432.13,253.91 435.59,255.57 439.04,256.92 442.44,257.92 444.10,258.28 445.75,258.56 447.36,258.75 448.93,258.85 450.47,258.86 451.82,258.79 450.23,258.61 448.84,258.35 447.06,257.86 445.81,257.39 444.61,256.84 443.12,255.97 441.76,254.95 440.83,254.09 439.97,253.16 438.95,251.80 438.28,250.69 437.70,249.52 437.06,247.86 436.68,246.54 436.39,245.16 436.17,243.57 433.80,244.01 431.32,244.19 429.43,244.08 428.38,243.91 427.39,243.65 426.46,243.31 425.61,242.89 424.35,242.01 423.69,241.38 423.11,240.67 422.32,239.33 421.85,238.11 421.59,237.12 421.38,235.70 421.31,234.18 421.39,232.55 421.55,231.27 421.80,229.94 422.25,228.10 422.84,226.19 423.38,224.72 424.94,221.17 426.90,217.51 429.30,213.68 427.85,211.44 426.30,208.79 425.19,206.71 424.00,204.14 422.84,201.17 422.00,198.33 421.49,195.66 421.36,194.39 421.31,192.87Z" fill="#f2986f" stroke="#f2986f" stroke-width="0.3"/>
<path d="M451.82,191.16 447.99,188.76 445.36,187.32 442.28,185.86 439.79,184.87 437.40,184.11 434.67,183.49 432.53,183.22 431.32,183.17 430.17,183.21 429.07,183.33 428.04,183.53 426.46,184.05 425.61,184.47 424.83,184.97 423.69,185.98 422.77,187.20 422.32,188.03 421.96,188.93 421.67,189.90 421.47,190.93 421.31,192.87 423.90,193.18 426.11,193.61 428.36,194.20 431.21,195.15 433.51,196.09 435.81,197.16 438.11,198.38 440.89,200.04 443.52,197.61 446.11,195.41 448.75,193.35Z" fill="#f6f6bc" stroke="#f6f6bc" stroke-width="0.3"/>
<path d="M482.33,192.87 482.26,191.66 482.11,190.58 481.88,189.57 481.57,188.62 481.18,187.75 480.70,186.94 479.74,185.76 478.56,184.80 477.75,184.32 476.88,183.93 475.93,183.62 474.92,183.39 473.09,183.19 471.11,183.22 468.53,183.57 466.24,184.11 463.35,185.05 460.34,186.31 457.75,187.59 454.59,189.38 451.82,191.16 454.89,193.35 457.53,195.41 460.12,197.61 462.75,200.04 465.53,198.38 467.83,197.16 470.13,196.09 472.43,195.15 474.72,194.37 476.97,193.75 479.74,193.18Z" fill="#c4e0a8" stroke="#c4e0a8" stroke-width="0.3"/>
<path d="M453.17,258.86 455.75,258.80 458.44,258.48 461.20,257.92 464.03,257.11 466.90,256.06 469.78,254.78 472.65,253.28 475.50,251.58 478.30,249.67 480.49,248.02 483.15,245.80 485.71,243.43 488.13,240.93 490.41,238.31 492.53,235.60 494.47,232.81 496.22,229.97 497.76,227.09 499.08,224.21 500.18,221.34 501.03,218.51 501.65,215.73 501.96,213.56 502.13,210.93 502.08,208.91 501.79,206.50 501.26,204.24 500.48,202.14 499.46,200.22 498.21,198.50 496.74,196.99 495.06,195.69 493.57,194.82 492.37,194.27 490.68,193.66 489.34,193.31 487.47,192.98 486.01,192.84 483.99,192.79 482.33,192.87 482.20,195.23 481.84,197.42 481.26,199.73 480.26,202.64 479.19,205.16 477.63,208.27 476.12,210.91 474.34,213.68 476.74,217.51 477.91,219.61 478.95,221.69 479.86,223.72 480.63,225.71 481.11,227.16 481.64,229.03 482.01,230.83 482.25,232.55 482.33,234.18 482.26,235.70 482.05,237.12 481.68,238.43 481.32,239.33 480.70,240.42 479.74,241.60 478.56,242.56 477.18,243.31 475.60,243.83 473.84,244.12 471.92,244.18 469.84,244.01 467.47,243.57 467.25,245.16 466.96,246.54 466.58,247.86 466.11,249.11 465.56,250.31 464.92,251.44 464.20,252.49 463.11,253.79 461.88,254.95 460.87,255.73 459.79,256.42 458.24,257.22 456.58,257.86 455.26,258.24 453.41,258.61 451.82,258.79Z" fill="#a09fd2" stroke="#a09fd2" stroke-width="0.3"/>
<path d="M440.89,200.04 437.54,198.06 435.24,196.88 432.93,195.84 430.63,194.95 428.36,194.20 426.11,193.61 423.90,193.18 421.31,192.87 421.44,195.23 421.80,197.42 422.38,199.73 423.38,202.64 424.69,205.67 426.01,208.27 427.52,210.91 429.30,213.68 431.89,210.08 434.42,206.93 437.60,203.35Z" fill="#ebd08e" stroke="#ebd08e" stroke-width="0.3"/>
<path d="M429.30,213.68 426.59,218.04 424.94,221.17 423.58,224.22 422.53,227.16 421.80,229.94 421.39,232.55 421.31,234.18 421.35,235.33 421.47,236.43 421.67,237.46 421.96,238.43 422.32,239.33 422.94,240.42 423.49,241.15 424.12,241.81 424.83,242.39 425.61,242.89 426.46,243.31 427.71,243.74 428.72,243.97 429.80,244.12 430.93,244.18 432.12,244.16 433.37,244.06 434.67,243.87 436.17,243.57 436.06,241.75 436.09,239.69 436.28,237.57 436.64,235.38 437.15,233.15 437.81,230.89 438.63,228.60 439.67,226.14 436.67,223.00 433.98,219.91 431.49,216.75Z" fill="#c6c682" stroke="#c6c682" stroke-width="0.3"/>
<path d="M451.82,258.79 454.34,258.45 455.70,258.12 457.00,257.71 458.64,257.03 459.79,256.42 461.21,255.48 462.20,254.67 463.11,253.79 464.20,252.49 464.92,251.44 465.56,250.31 466.11,249.11 466.58,247.86 466.96,246.54 467.25,245.16 467.47,243.57 465.77,243.12 463.85,242.49 461.86,241.72 459.83,240.81 457.75,239.77 455.65,238.60 451.82,236.20 447.99,238.60 445.89,239.77 443.81,240.81 441.78,241.72 439.79,242.49 437.87,243.12 436.17,243.57 436.39,245.16 436.80,246.98 437.36,248.70 437.89,249.92 438.50,251.07 439.44,252.49 440.25,253.48 441.44,254.67 442.43,255.48 443.85,256.42 445.00,257.03 446.64,257.71 448.38,258.24 450.23,258.61Z" fill="#d26468" stroke="#d26468" stroke-width="0.3"/>
<path d="M462.75,200.04 460.12,197.61 457.53,195.41 454.89,193.35 451.82,191.16 448.75,193.35 446.11,195.41 443.52,197.61 440.89,200.04 443.76,201.99 446.49,204.07 449.13,206.32 451.82,208.88 453.99,206.79 456.61,204.51 459.88,201.99Z" fill="#dceba0" stroke="#dceba0" stroke-width="0.3"/>
<path d="M467.47,243.57 470.69,244.11 471.92,244.18 473.09,244.17 474.21,244.08 475.26,243.91 476.57,243.54 477.47,243.18 478.56,242.56 479.29,242.01 479.95,241.38 480.53,240.67 481.03,239.89 481.45,239.04 481.79,238.11 482.05,237.12 482.26,235.70 482.32,234.57 482.30,233.38 482.20,232.13 481.75,229.49 480.96,226.68 479.86,223.72 478.18,220.14 476.43,216.98 474.34,213.68 472.15,216.75 469.66,219.91 466.97,223.00 463.97,226.14 464.78,228.02 465.64,230.32 466.34,232.59 466.77,234.27 467.20,236.48 467.52,239.17 467.59,241.24Z" fill="#cdcda5" stroke="#cdcda5" stroke-width="0.3"/>
<path d="M474.34,213.68 476.43,210.38 477.91,207.75 479.19,205.16 480.26,202.64 481.26,199.73 481.84,197.42 482.20,195.23 482.33,192.87 479.74,193.18 477.53,193.61 474.72,194.37 472.43,195.15 470.13,196.09 467.83,197.16 465.53,198.38 462.75,200.04 466.04,203.35 468.78,206.41 471.75,210.08Z" fill="#78b08e" stroke="#78b08e" stroke-width="0.3"/>
<path d="M451.82,208.88 449.13,206.32 446.49,204.07 443.76,201.99 440.89,200.04 437.60,203.35 434.42,206.93 431.89,210.08 429.30,213.68 431.49,216.75 433.98,219.91 436.67,223.00 439.67,226.14 440.71,223.99 441.96,221.69 442.99,219.98 444.46,217.73 446.06,215.51 447.77,213.35 449.58,211.25Z" fill="#d2dc66" stroke="#d2dc66" stroke-width="0.3"/>
<path d="M467.57,242.25 467.57,240.21 467.42,238.10 467.20,236.48 466.77,234.27 466.34,232.59 465.64,230.32 464.78,228.02 463.97,226.14 461.14,228.83 458.05,231.52 454.89,234.01 451.82,236.20 454.59,237.98 457.23,239.49 460.34,241.05 462.86,242.12 465.30,242.97 467.47,243.57Z" fill="#e0b872" stroke="#e0b872" stroke-width="0.3"/>
<path d="M439.67,226.14 438.63,228.60 437.81,230.89 437.15,233.15 436.64,235.38 436.28,237.57 436.09,239.69 436.06,241.75 436.17,243.57 437.87,243.12 439.79,242.49 441.78,241.72 443.81,240.81 445.89,239.77 447.99,238.60 451.82,236.20 448.75,234.01 446.11,231.95 443.01,229.29Z" fill="#aab470" stroke="#aab470" stroke-width="0.3"/>
<path d="M463.97,226.14 466.97,223.00 469.66,219.91 472.15,216.75 474.34,213.68 471.75,210.08 469.22,206.93 466.04,203.35 462.75,200.04 459.88,201.99 457.15,204.07 454.51,206.32 451.82,208.88 453.59,210.73 455.43,212.82 457.16,214.97 458.39,216.62 459.93,218.85 461.34,221.12 462.63,223.41Z" fill="#c8dc8c" stroke="#c8dc8c" stroke-width="0.3"/>
<path d="M463.97,226.14 462.63,223.41 461.34,221.12 459.93,218.85 458.39,216.62 457.16,214.97 455.43,212.82 453.59,210.73 451.82,208.88 450.05,210.73 448.21,212.82 446.48,214.97 444.85,217.17 443.34,219.42 441.96,221.69 440.71,223.99 439.67,226.14 442.50,228.83 445.59,231.52 448.75,234.01 451.82,236.20 454.36,234.40 457.00,232.37 459.61,230.20 462.15,227.90Z" fill="#c4d25c" stroke="#c4d25c" stroke-width="0.3"/>
<ellipse cx="469.09" cy="225.83" rx="39.97" ry="24.20" fill="none" stroke="#141414" stroke-width="1.6" transform="rotate(-45 469.09 225.83)"/>
<ellipse cx="434.55" cy="225.83" rx="39.97" ry="24.20" fill="none" stroke="#141414" stroke-width="1.6" transform="rotate(45 434.55 225.83)"/>
<ellipse cx="451.82" cy="213.68" rx="39.48" ry="17.40" fill="none" stroke="#141414" stroke-width="1.6" transform="rotate(-45 451.82 213.68)"/>
<ellipse cx="451.82" cy="213.68" rx="39.48" ry="17.40" fill="none" stroke="#141414" stroke-width="1.6" transform="rotate(45 451.82 213.68)"/>
<text x="413.50" y="215.55" font-size="4.9" stroke="#333" stroke-width="0.05" text-anchor="middle" fill="#333">4</text>
<text x="434.20" y="192.05" font-size="4.9" stroke="#333" stroke-width="0.05" text-anchor="middle" fill="#333">366</text>
<text x="467.40" y="192.05" font-size="4.9" stroke="#333" stroke-width="0.05" text-anchor="middle" fill="#333">2</text>
<text x="486.60" y="215.75" font-size="4.9" stroke="#333" stroke-width="0.05" text-anchor="middle" fill="#333">8</text>
<text x="428.30" y="204.35" font-size="4.9" stroke="#333" stroke-width="0.05" text-anchor="middle" fill="#333">6</text>
<text x="451.10" y="202.25" font-size="4.9" stroke="#333" stroke-width="0.05" text-anchor="middle" fill="#333">11</text>
<text x="471.60" y="204.35" font-size="4.9" stroke="#333" stroke-width="0.05" text-anchor="middle" fill="#333">0</text>
<text x="440.00" y="214.75" font-size="4.9" stroke="#333" stroke-width="0.05" text-anchor="middle" fill="#333">12</text>
<text x="461.20" y="214.75" font-size="4.9" stroke="#333" stroke-width="0.05" text-anchor="middle" fill="#333">1</text>
<text x="429.40" y="233.35" font-size="4.9" stroke="#333" stroke-width="0.05" text-anchor="middle" fill="#333">4</text>
<text x="450.10" y="227.85" font-size="4.9" stroke="#333" stroke-width="0.05" text-anchor="middle" fill="#333">6</text>
<text x="471.10" y="233.35" font-size="4.9" stroke="#333" stroke-width="0.05" text-anchor="middle" fill="#333">23</text>
<text x="441.20" y="238.75" font-size="4.9" stroke="#333" stroke-width="0.05" text-anchor="middle" fill="#333">0</text>
<text x="458.60" y="238.35" font-size="4.9" stroke="#333" stroke-width="0.05" text-anchor="middle" fill="#333">0</text>
<text x="450.10" y="250.05" font-size="4.9" stroke="#333" stroke-width="0.05" text-anchor="middle" fill="#333">0</text>
<text x="414.20" y="189.40" font-size="5.2" stroke="#111" stroke-width="0.16" text-anchor="end" fill="#111">Cell-cycle</text>
<text x="433.00" y="179.20" font-size="5.2" stroke="#111" stroke-width="0.16" text-anchor="middle" fill="#111">RTK/RAS</text>
<text x="466.80" y="179.20" font-size="5.2" stroke="#111" stroke-width="0.16" text-anchor="middle" fill="#111">p53</text>
<text x="494.60" y="189.40" font-size="5.2" stroke="#111" stroke-width="0.16" text-anchor="middle" fill="#111">PI3K</text>
</svg>
</body></html>
